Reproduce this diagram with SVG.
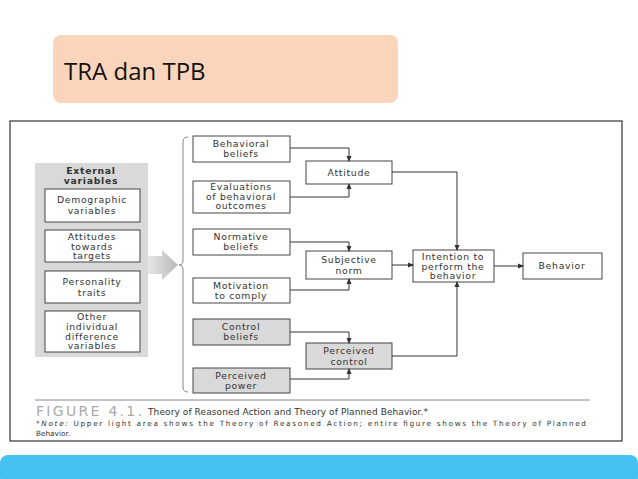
<svg xmlns="http://www.w3.org/2000/svg" width="638" height="479" viewBox="0 0 638 479">
<defs>
<style>
.b{fill:#fff;stroke:#444;stroke-width:1}
.g{fill:#d9d9d9;stroke:#444;stroke-width:1}
.t{font-family:"DejaVu Sans",sans-serif;font-size:9.3px;letter-spacing:0.7px;fill:#333;text-anchor:middle}
.c{fill:none;stroke:#333;stroke-width:1}
.f{font-family:"DejaVu Sans",sans-serif;fill:#333}
</style>
<marker id="ah" markerWidth="6" markerHeight="6" refX="5" refY="3" orient="auto" markerUnits="userSpaceOnUse"><path d="M0,0.5 L6,3 L0,5.5Z" fill="#333"/></marker>
<linearGradient id="ag" x1="0" x2="1"><stop offset="0" stop-color="#e6e6e6"/><stop offset="1" stop-color="#b8b8b8"/></linearGradient>
</defs>
<rect width="638" height="479" fill="#fff"/>
<g id="title"><rect x="53" y="35" width="345" height="68" rx="8" fill="#fbd5bb"/><text x="64" y="80" font-family="Open Sans,Liberation Sans,sans-serif" font-size="24" fill="#111">TRA dan TPB</text></g>
<rect x="10" y="121" width="612" height="320" fill="#fff" stroke="#333" stroke-width="1.2"/>
<rect x="0" y="455" width="638" height="30" rx="8" fill="#45c2ef"/>
<g id="external"><rect x="35" y="163" width="113" height="194" fill="#d9d9d9"/>
<text class="t" x="91" y="174" font-weight="bold">External</text><text class="t" x="91" y="184" font-weight="bold">variables</text></g>
<g id="demo"><rect class="b" x="45" y="189" width="95" height="33"/><text class="t" x="92" y="203">Demographic</text><text class="t" x="92" y="214">variables</text></g>
<g id="attt"><rect class="b" x="45" y="230" width="95" height="32"/><text class="t" x="92" y="240">Attitudes</text><text class="t" x="92" y="250">towards</text><text class="t" x="92" y="259">targets</text></g>
<g id="pers"><rect class="b" x="45" y="271" width="95" height="32"/><text class="t" x="92" y="285">Personality</text><text class="t" x="92" y="296">traits</text></g>
<g id="other"><rect class="b" x="45" y="311" width="95" height="41"/><text class="t" x="92" y="320">Other</text><text class="t" x="92" y="330">individual</text><text class="t" x="92" y="340">difference</text><text class="t" x="92" y="349">variables</text></g>
<g id="bigarrow"><path d="M148,256 L162,256 L162,250 L178,265 L162,280 L162,274 L148,274Z" fill="url(#ag)"/></g>
<path d="M188,137 Q183,137 183,142 L183,260 Q183,265 179,265 Q183,265 183,270 L183,387 Q183,392 188,392" fill="none" stroke="#888"/>
<g id="bb"><rect class="b" x="193" y="136" width="97" height="26"/><text class="t" x="241" y="147">Behavioral</text><text class="t" x="241" y="157">beliefs</text></g>
<g id="ev"><rect class="b" x="193" y="181" width="97" height="32"/><text class="t" x="241" y="190">Evaluations</text><text class="t" x="241" y="200">of behavioral</text><text class="t" x="241" y="209">outcomes</text></g>
<g id="nb"><rect class="b" x="193" y="229" width="97" height="26"/><text class="t" x="241" y="240">Normative</text><text class="t" x="241" y="250">beliefs</text></g>
<g id="mc"><rect class="b" x="193" y="278" width="97" height="25"/><text class="t" x="241" y="289">Motivation</text><text class="t" x="241" y="299">to comply</text></g>
<g id="cb"><rect class="g" x="193" y="319" width="97" height="26"/><text class="t" x="241" y="330">Control</text><text class="t" x="241" y="340">beliefs</text></g>
<g id="pp"><rect class="g" x="193" y="368" width="97" height="25"/><text class="t" x="241" y="379">Perceived</text><text class="t" x="241" y="389">power</text></g>
<g id="att"><rect class="b" x="306" y="161" width="86" height="23"/><text class="t" x="349" y="176">Attitude</text></g>
<g id="sn"><rect class="b" x="306" y="251" width="86" height="28"/><text class="t" x="349" y="263">Subjective</text><text class="t" x="349" y="274">norm</text></g>
<g id="pc"><rect class="g" x="306" y="343" width="86" height="26"/><text class="t" x="349" y="354">Perceived</text><text class="t" x="349" y="365">control</text></g>
<g id="int"><rect class="b" x="413" y="250" width="81" height="32"/><text class="t" x="453" y="260">Intention to</text><text class="t" x="453" y="270">perform the</text><text class="t" x="453" y="279">behavior</text></g>
<g id="beh"><rect class="b" x="523" y="253" width="79" height="26"/><text class="t" x="562" y="269">Behavior</text></g>
<g id="connectors" class="c">
<path class="c" d="M290,148 L349,148 L349,161" marker-end="url(#ah)"/>
<path class="c" d="M290,197 L349,197 L349,184" marker-end="url(#ah)"/>
<path class="c" d="M290,242 L349,242 L349,251" marker-end="url(#ah)"/>
<path class="c" d="M290,290 L349,290 L349,279" marker-end="url(#ah)"/>
<path class="c" d="M290,332 L349,332 L349,343" marker-end="url(#ah)"/>
<path class="c" d="M290,379 L349,379 L349,369" marker-end="url(#ah)"/>
<path class="c" d="M392,172 L457,172 L457,250" marker-end="url(#ah)"/>
<path class="c" d="M392,356 L457,356 L457,282" marker-end="url(#ah)"/>
<path class="c" d="M392,265 L413,265" marker-end="url(#ah)"/>
<path class="c" d="M494,266 L523,266" marker-end="url(#ah)"/>
</g>
<line x1="35" y1="400" x2="590" y2="400" stroke="#888"/>
<text x="36" y="416" font-family="DejaVu Sans,sans-serif" font-size="14" fill="#aaa" textLength="106">FIGURE 4.1.</text>
<text class="f" x="148" y="415" font-size="9" textLength="280">Theory of Reasoned Action and Theory of Planned Behavior.*</text>
<text class="f" x="36" y="426" font-size="7.3" textLength="550">*<tspan font-style="italic">Note:</tspan> Upper light area shows the Theory of Reasoned Action; entire figure shows the Theory of Planned</text>
<text class="f" x="36" y="436" font-size="7.3">Behavior.</text>
</svg>
